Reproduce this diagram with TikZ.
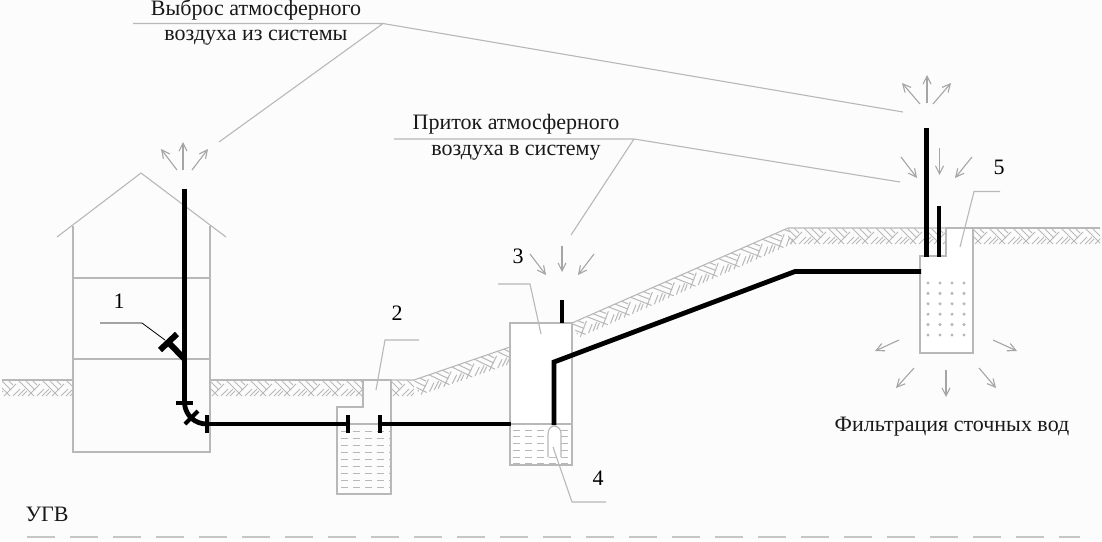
\documentclass[tikz,border=0pt]{standalone}
\usepackage{fontspec}
\setmainfont{Liberation Serif}
\usetikzlibrary{arrows.meta}
\definecolor{ln}{gray}{0.72}
\definecolor{txt}{gray}{0.10}
\tikzset{
  wall/.style={draw=ln,line width=1.1pt},
  hat/.style={draw=ln,line width=1pt},
  pipe/.style={draw=black,line width=4.8pt,line join=miter},
  flange/.style={draw=black,line width=4pt},
  lead/.style={draw=ln,line width=1.1pt},
  flow/.style={draw=ln!90!black,line width=1.1pt,-{Straight Barb[length=8pt,width=8pt,line width=1.1pt]}},
  lab/.style={font=\fontsize{22}{24}\selectfont,text=txt,inner sep=0pt},
  num/.style={font=\fontsize{22}{24}\selectfont,text=black,inner sep=0pt},
  water/.style={draw=ln,line width=0.9pt,dash pattern=on 7pt off 5pt}
}
% ground hatching under the segment (#1,#2)--(#3,#4)
\newcommand\hatchstrip[4]{%
  \pgfmathsetmacro\hlen{veclen(#3-#1,#4-#2)}
  \pgfmathsetmacro\hang{atan2(#2-#4,#3-#1)}
  \pgfmathtruncatemacro\hn{\hlen/24+1}
  \begin{scope}[shift={(#1,#2)},rotate=\hang]
    \clip (0,0) rectangle (\hlen,17);
    \foreach \hi in {0,...,\hn}{
      \pgfmathsetmacro\hx{\hi*24-8}
      \begin{scope}[xshift=\hx pt]
        \draw[hat] (0,0)--(16,16) (7,0)--(17,10) (14,0)--(19,5)
                   (10,16)--(22,4) (4,16)--(9,11) (19,16)--(26,9) (24,16)--(31,9);
      \end{scope}
    }
  \end{scope}}
\begin{document}
\begin{tikzpicture}[x=1pt,y=-1pt]
\useasboundingbox[fill=white!99!black] (0,0) rectangle (1102,541);

% ground
\hatchstrip{2}{380}{73}{380}
\hatchstrip{210}{380}{363}{380}
\hatchstrip{391}{380}{414}{380}
\hatchstrip{414}{380}{510}{347}
\hatchstrip{572}{323}{788}{228}
\hatchstrip{788}{228}{946}{228}
\hatchstrip{973}{228}{1100}{228}
\draw[wall] (210,380)--(363,380);
\draw[wall] (391,380)--(414,380)--(510,347);
\draw[wall] (572,323)--(788,228)--(946,228);
\draw[wall] (973,228)--(1100,228);
\draw[wall] (2,380)--(73,380);

% house
\draw[wall] (57,237)--(141,173)--(226,237);
\draw[wall] (73,226)--(73,452)--(210,452)--(210,226);
\draw[wall] (73,278)--(210,278) (73,359)--(210,359);

% chamber 2
\draw[wall] (363,380)--(363,407)--(337,407)--(337,494)--(391,494)--(391,380)--cycle;
\draw[wall] (337,424)--(391,424);
\foreach \wy in {431,438,445,452,459,466,473,480,487}
  \draw[water] (341,\wy)--(390,\wy);

% chamber 3
\draw[wall,fill=white] (510,323) rectangle (572,465);
\draw[wall] (510,424)--(572,424);
\foreach \wy in {430,436,443,450,457,463}
  \draw[water] (513,\wy)--(571,\wy);
\draw[wall,fill=white] (548,457)--(548,434) .. controls (548,429) and (551,426) .. (554,426)
  .. controls (558,426) and (561,429) .. (561,434) -- (561,457);

% filter well 5
\draw[wall,fill=white] (946,228)--(946,256)--(920,256)--(920,353)--(973,353)--(973,228)--cycle;
\foreach \dy in {283,293.4,303.8,314.2,324.6,335}
  \foreach \dx in {928,940,952,964}
    \fill[ln] (\dx,\dy) circle (1.7pt);

% pipes
\draw[pipe] (184.5,189)--(184.5,403);
\draw[pipe] (184.5,404) .. controls (186,416) and (195,424) .. (207,424);
\draw[pipe] (207,424)--(347,424);
\draw[pipe] (380,424)--(511,424);
\draw[pipe] (554,425)--(554,362)--(795,271.5)--(921,271.5);
\draw[pipe] (562,300)--(562,323);
\draw[pipe] (926.5,128)--(926.5,257);
\draw[pipe] (939,206)--(939,257);
\draw[pipe,line width=6pt] (184.5,359)--(169,343);
\draw[flange,line width=6pt] (160,350)--(177,334);
\draw[flange] (176,403)--(193,403);
\draw[flange] (185,424)--(198,411);
\draw[flange] (207,415)--(207,433);
\draw[flange] (348,415)--(348,433);
\draw[flange] (380,415)--(380,433);

% flow arrows
\foreach \ax/\ay/\bx/\by in {
  183/170/183/142, 177/170/161/149, 192/170/208/149,
  927/103/927/75, 920/104/902/83, 933/104/951/83,
  901/157/917/178, 939.5/148/939.5/175, 972/157/955/178,
  530/254/546/275, 562/246/562/272, 594/254/578/275,
  899/340/875/351, 993/340/1017/351,
  914/368/896/388, 946/370/946/397, 979/368/996/388}
  \draw[flow] (\ax,\ay)--(\bx,\by);

% top notes
\coordinate (j1) at (383,23.5);
\coordinate (j1s) at (133,23.5);
\coordinate (j1a) at (219,142);
\coordinate (j1b) at (903,112);
\draw[lead] (j1s)--(j1) (j1a)--(j1)--(j1b);
\node[lab] (t1a) at (256,10) {Выброс атмосферного};
\node[lab] (t1b) at (256,38) {воздуха из системы};
\coordinate (j2) at (634,139);
\coordinate (j2s) at (394,139);
\coordinate (j2a) at (571,235);
\coordinate (j2b) at (900,182);
\draw[lead] (j2s)--(j2) (j2a)--(j2)--(j2b);
\node[lab] (t2a) at (516,124) {Приток атмосферного};
\node[lab] (t2b) at (516,153) {воздуха в систему};

% numbered leaders
\coordinate (p1) at (165,340);
\draw[draw=black,line width=0.8pt] (100,323)--(142,323)--(p1);
\node[num] (n1) at (119,301) {1};
\draw[lead] (419,340)--(385,340)--(376,390);
\node[num] (n2) at (397,313) {2};
\draw[lead] (498,284)--(530,284)--(541,334);
\node[num] (n3) at (518,256) {3};
\draw[lead] (553,447)--(572,502)--(606,502);
\node[num] (n4) at (598,478) {4};
\draw[lead] (1000,191.5)--(974,191.5)--(960,247);
\node[num] (n5) at (999,167) {5};

\node[lab] (tf) at (952,427) {Фильтрация сточных вод};
\node[lab] (tu) at (47,514) {УГВ};
\draw[draw=ln!80,line width=1.6pt,dash pattern=on 28pt off 15pt] (27,537)--(1080,537);
\end{tikzpicture}
\end{document}
